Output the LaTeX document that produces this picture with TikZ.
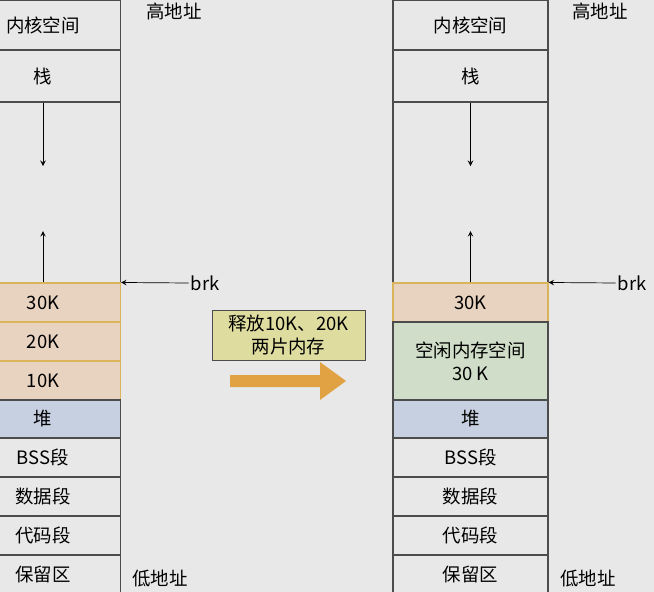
\documentclass[tikz,border=0pt]{standalone}
\usepackage{fontspec}
\setmainfont{Noto Sans CJK SC}
\usetikzlibrary{positioning}
\definecolor{bg}{HTML}{E8E8E8}
\definecolor{peach}{HTML}{E8D3C1}
\definecolor{mint}{HTML}{D0DEC9}
\definecolor{steel}{HTML}{C6D0E0}
\definecolor{note}{HTML}{DEDD9F}
\definecolor{gold}{HTML}{D9B45A}
\definecolor{bigarrow}{HTML}{E0A243}
\begin{document}
\begin{tikzpicture}[x=0.02cm,y=-0.02cm,font=\fontsize{10.5}{13}\selectfont,
        cell/.style={draw=black!70,line width=0.6pt,minimum width=3.1cm,inner sep=0pt},
        kb/.style={cell,draw=gold,fill=peach},
        lbl/.style={inner sep=1pt}]
\useasboundingbox[fill=bg] (0,0) rectangle (654,592);

% left column
\node[cell,minimum height=1.0cm]  (lk)   at (43,25)  {内核空间};
\node[cell,minimum height=1.04cm] (ls)   at (43,76)  {栈};
\node[cell,minimum height=3.62cm] (le)   at (43,192.5) {};
\node[kb,minimum height=0.78cm]   (l30)  at (43,302.5) {30K};
\node[kb,minimum height=0.78cm]   (l20)  at (43,341.5) {20K};
\node[kb,minimum height=0.78cm]   (l10)  at (43,380.5) {10K};
\node[cell,fill=steel,minimum height=0.76cm] (lh) at (43,419) {堆};
\node[cell,minimum height=0.78cm] (lb)   at (43,457.5) {BSS段};
\node[cell,minimum height=0.78cm] (ld)   at (43,496.5) {数据段};
\node[cell,minimum height=0.78cm] (lc)   at (43,535.5) {代码段};
\node[cell,minimum height=0.78cm] (lr)   at (43,574.5) {保留区};

% right column
\node[cell,minimum height=1.0cm]  (rk)   at (470.5,25)  {内核空间};
\node[cell,minimum height=1.04cm] (rs)   at (470.5,76)  {栈};
\node[cell,minimum height=3.62cm] (re)   at (470.5,192.5) {};
\node[kb,minimum height=0.78cm]   (r30)  at (470.5,302.5) {30K};
\node[cell,fill=mint,minimum height=1.56cm,align=center] (rf) at (470.5,361) {空闲内存空间\\30 K};
\node[cell,fill=steel,minimum height=0.76cm] (rh) at (470.5,419) {堆};
\node[cell,minimum height=0.78cm] (rb)   at (470.5,457.5) {BSS段};
\node[cell,minimum height=0.78cm] (rd)   at (470.5,496.5) {数据段};
\node[cell,minimum height=0.78cm] (rc)   at (470.5,535.5) {代码段};
\node[cell,minimum height=0.78cm] (rr)   at (470.5,574.5) {保留区};

% addresses
\node[lbl] (lhi) at (174,11)  {高地址};
\node[lbl] (llo) at (160,579) {低地址};
\node[lbl] (rhi) at (600,11)  {高地址};
\node[lbl] (rlo) at (588,579) {低地址};

% grow arrows
\coordinate (ld1) at (43,166);
\coordinate (lu1) at (43,231);
\coordinate (rd1) at (470.5,166);
\coordinate (ru1) at (470.5,231);
\draw[-stealth] (ls.south) -- (ld1);
\draw[-stealth] (l30.north) -- (lu1);
\draw[-stealth] (rs.south) -- (rd1);
\draw[-stealth] (r30.north) -- (ru1);

% brk
\node[lbl] (lbrk) at (205,283) {brk};
\node[lbl] (rbrk) at (632,283) {brk};
\draw[-stealth] (lbrk.west) -- (l30.north east);
\draw[-stealth] (rbrk.west) -- (r30.north east);

% note and big arrow
\node[draw=black!70,fill=note,align=center,minimum width=3.06cm,minimum height=1.0cm,inner sep=1pt]
    (msg) at (288.5,335) {释放10K、20K\\两片内存};
\fill[bigarrow] (230,375) -- (320,375) -- (320,362) -- (346,381) -- (320,400)
    -- (320,387) -- (230,387) -- cycle;
\end{tikzpicture}
\end{document}
